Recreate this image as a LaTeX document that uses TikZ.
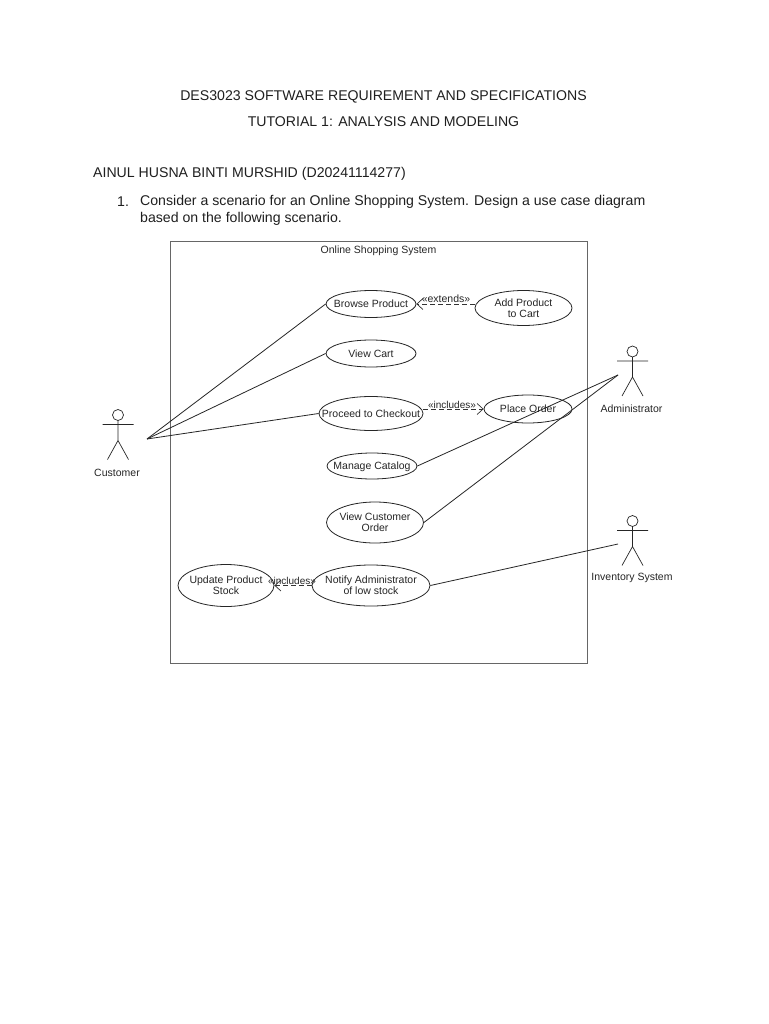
\documentclass[tikz,border=0pt]{standalone}
\usepackage{fontspec}
\setmainfont{Liberation Sans}
\usetikzlibrary{shapes.geometric,arrows.meta}
\tikzset{
  doctext/.style={inner sep=0pt,font=\fontsize{14.12}{16}\selectfont,text=black!88},
  label/.style={inner sep=0pt,font=\fontsize{10.5}{11.4}\selectfont,text=black!85,align=center},
  stereo/.style={inner sep=0pt,font=\fontsize{10}{11}\selectfont,text=black!85},
  usecase/.style={ellipse,draw=black!85,line width=0.8pt,inner xsep=-40pt,inner ysep=-20pt,align=center,font=\fontsize{10.5}{11.4}\selectfont,text=black!85},
  assoc/.style={draw=black!85,line width=0.8pt},
  dep/.style={draw=black!80,line width=0.7pt,dash pattern=on 5pt off 3pt,-{Straight Barb[length=6pt,width=11pt,line width=0.7pt]}},
  stick/.pic={
    \draw[black!85,line width=0.7pt] (0,-9.5) circle[radius=5.5];
    \draw[black!85,line width=0.7pt] (-15.5,0) -- (15.5,0) (0,-4) -- (0,16) (-10.5,35) -- (0,16) -- (10.5,35);
  }
}
\begin{document}
\begin{tikzpicture}[x=1pt,y=-1pt]
\useasboundingbox (0,0) rectangle (768,1024);
\fill[white] (0,0) rectangle (768,1024);
\node[doctext] (h1) at (383.5,96.5) {DES3023 SOFTWARE REQUIREMENT AND SPECIFICATIONS};
\node[doctext] (h2) at (383.5,121.5) {TUTORIAL 1: ANALYSIS AND MODELING};
\node[doctext,anchor=west] (name) at (93,174) {AINUL HUSNA BINTI MURSHID (D20241114277)};
\node[doctext,anchor=west] (num) at (117,201.5) {1.};
\node[doctext,anchor=west] (q1) at (140,201.5) {Consider a scenario for an Online Shopping System. Design a use case diagram};
\node[doctext,anchor=west] (q2) at (140,218.5) {based on the following scenario.};
\node[draw=black!60,line width=0.9pt,minimum width=417pt,minimum height=422pt,inner sep=0pt] (sys) at (378.5,452) {};
\node[label] (title) at (378.5,251) {Online Shopping System};
\node[usecase,minimum width=90pt,minimum height=27pt] (browse) at (371,304) {Browse Product};
\node[usecase,minimum width=97pt,minimum height=35pt] (add) at (523.5,308) {Add Product\\to Cart};
\node[usecase,minimum width=90pt,minimum height=27pt] (cart) at (371,353.5) {View Cart};
\node[usecase,minimum width=104pt,minimum height=34pt] (checkout) at (371,413.5) {Proceed to Checkout};
\node[usecase,minimum width=88pt,minimum height=28pt] (place) at (528,409) {Place Order};
\node[usecase,minimum width=90pt,minimum height=26pt,text depth=0pt] (catalog) at (372,466) {Manage Catalog};
\node[usecase,minimum width=97pt,minimum height=41pt] (vieworder) at (375,522.5) {View Customer\\Order};
\node[usecase,minimum width=96pt,minimum height=42pt] (update) at (226,585.5) {Update Product\\Stock};
\node[usecase,minimum width=118pt,minimum height=41pt] (notify) at (371,585.5) {Notify Administrator\\of low stock};
\pic at (118,424.5) {stick};
\pic at (632.5,361) {stick};
\pic at (632.5,530.5) {stick};
\node[label] (customer) at (117,472.5) {Customer};
\node[label] (admin) at (631.5,409) {Administrator};
\node[label] (inventory) at (632,578) {Inventory System};
\coordinate (cA) at (147,439);
\coordinate (aA) at (618,375);
\coordinate (iA) at (618,544);
\draw[assoc] (cA) -- (browse.west);
\draw[assoc] (cA) -- (cart.west);
\draw[assoc] (cA) -- (checkout.west);
\draw[assoc] (aA) -- (catalog.east);
\draw[assoc] (aA) -- (vieworder.east);
\draw[assoc] (iA) -- (notify.east);
\draw[dep] (add.west |- browse.east) -- (browse.east);
\draw[dep] (checkout.east |- place.west) -- (place.west);
\draw[dep] (notify.west) -- (update.east);
\node[label] (ext) at (446,298.5) {«extends»};
\node[stereo] (inc1) at (452,404.5) {«includes»};
\node[stereo] (inc2) at (292,580.5) {«includes»};
\end{tikzpicture}
\end{document}
